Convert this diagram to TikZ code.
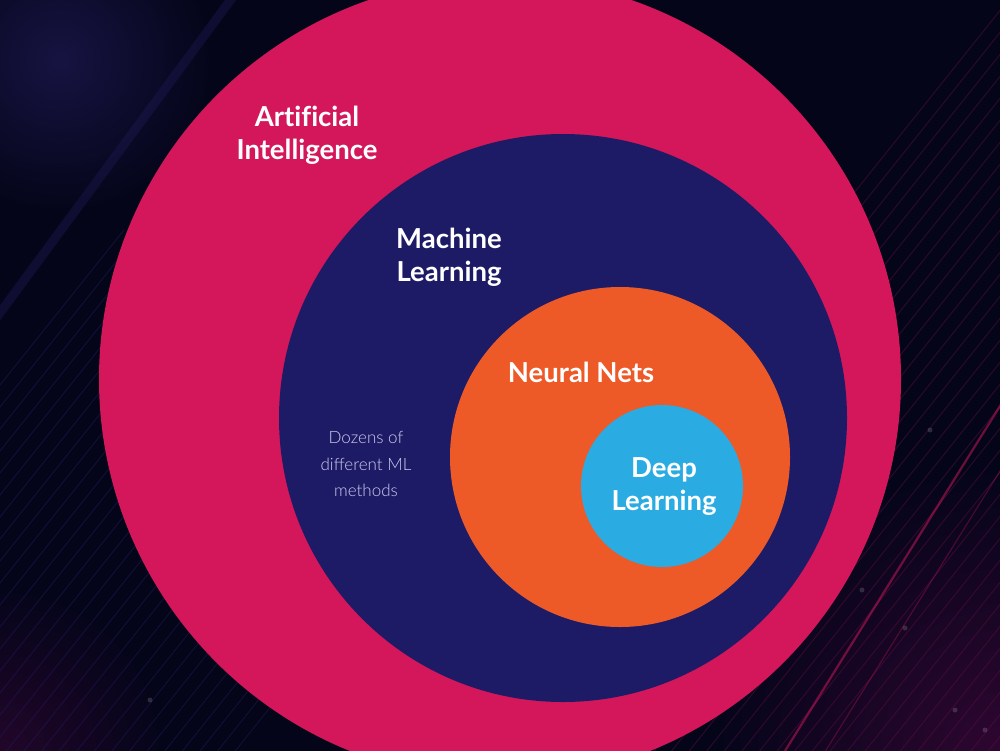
\documentclass[tikz,border=0pt]{standalone}
\usepackage{fontspec}
\setmainfont{Lato}[Ligatures=NoCommon]
\newfontfamily\latolight{Lato Light}
\begin{document}
\begin{tikzpicture}[x=1pt,y=-1pt,
  bigtext/.style={text=white,font=\fontsize{27.5}{33}\selectfont\bfseries,align=center,inner sep=0pt},
  smalltext/.style={text=lavender,font=\latolight\fontsize{17}{26.5}\selectfont,align=center,inner sep=0pt},
  bgline/.style={line width=0.8pt,draw=linepink,opacity=0.55},
  bglineL/.style={line width=0.8pt,draw=lineblue,opacity=0.5}]
\definecolor{bgdark}{HTML}{05051A}
\definecolor{aipink}{HTML}{D4175A}
\definecolor{mlnavy}{HTML}{1E1B66}
\definecolor{nnorange}{HTML}{EE5A27}
\definecolor{dlblue}{HTML}{2AABE2}
\definecolor{lavender}{HTML}{CFCCF2}
\definecolor{linepink}{HTML}{5A1040}
\definecolor{lineblue}{HTML}{221D5C}
\definecolor{glowpurple}{HTML}{2E0630}
\useasboundingbox (0,0) rectangle (1000,750);
% background
\fill[bgdark] (-10,-10) rectangle (1010,760);
\begin{scope}
\clip (-10,-10) rectangle (1010,760);
\shade[inner color=glowpurple,outer color=bgdark] (1000,750) circle (280);
\shade[inner color=glowpurple!70!bgdark,outer color=bgdark] (0,750) circle (160);
\shade[inner color=lineblue!60!bgdark,outer color=bgdark] (60,60) circle (150);
\draw[lineblue,line width=9pt,opacity=0.35] (-20,340) -- (260,-40);
% right-hand line family
\begin{scope}
\clip (600,-10) rectangle (1010,760);
\foreach \k in {0,...,34} {
  \draw[bgline] (1010,{-2+22*\k}) -- ++(-500,625);
}
\draw[aipink,line width=2.2pt,opacity=0.5] (1010,390) -- ++(-240,385);
\draw[aipink,line width=1.2pt,opacity=0.3] (1010,455) -- ++(-240,385);
\end{scope}
% left-hand line family
\begin{scope}
\clip (-10,230) rectangle (400,760);
\foreach \k in {0,...,30} {
  \draw[bglineL] (300,{10+22*\k}) -- ++(-500,625);
}
\end{scope}
% faint sparkles
\foreach \p in {(955,710),(905,628),(862,590),(930,430),(150,700),(117,360),(985,730)} {
  \fill[white,opacity=0.15] \p circle (2.5);
}
\end{scope}
% circles
\fill[aipink] (500,379) circle (401);
\fill[mlnavy] (563,418) circle (284);
\fill[nnorange] (620,457) circle (170);
\fill[dlblue] (662,486) circle (81);
% labels
\node[bigtext] (ai) at (307,135) {Artificial\\Intelligence};
\node[bigtext] (ml) at (449,257) {Machine\\Learning};
\node[bigtext] (nn) at (581,372) {Neural Nets};
\node[bigtext] (dl) at (664,487) {Deep\\Learning};
\node[smalltext] (dz) at (366,464) {Dozens of\\different ML\\methods};
\end{tikzpicture}
\end{document}
